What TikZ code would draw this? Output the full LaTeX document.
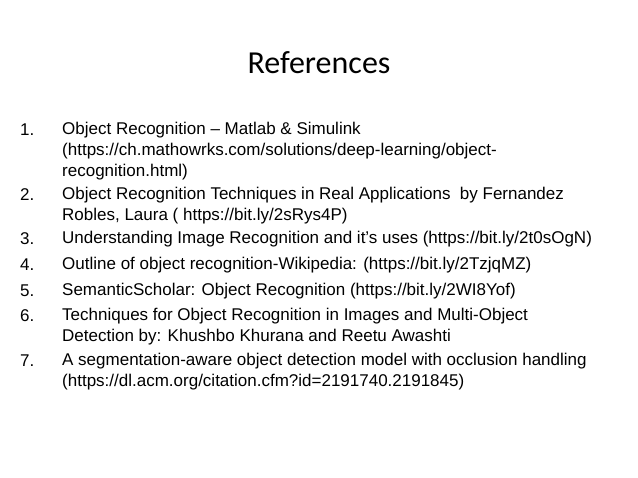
\documentclass[tikz,border=0pt]{standalone}
\usepackage{fontspec}
\setmainfont{Liberation Sans}
\newfontfamily\titlefont{Carlito}
\begin{document}
\begin{tikzpicture}[x=1pt,y=-1pt,
  ln/.style={anchor=west,inner sep=0pt,font=\fontsize{17}{20}\selectfont},
  num/.style={anchor=west,inner sep=0pt,font=\fontsize{17}{20}\selectfont}]
\useasboundingbox (0,0) rectangle (638,478);
\node[font=\titlefont\fontsize{32}{36}\selectfont,inner sep=0pt] (title) at (319,63) {References};
\foreach \n/\y in {1/130,2/195,3/239,4/265,5/291,6/316,7/361}
  \node[num] (n\n) at (20,\y) {\n.};
\node[ln] (a1) at (62,130) {Object Recognition – Matlab \& Simulink};
\node[ln] (a2) at (62,151) {(https://ch.mathowrks.com/solutions/deep-learning/object-};
\node[ln] (a3) at (62,172) {recognition.html)};
\node[ln] (b1) at (62,195) {Object Recognition Techniques in Real Applications \ by Fernandez};
\node[ln] (b2) at (62,216) {Robles, Laura ( https://bit.ly/2sRys4P)};
\node[ln] (c1) at (62,239) {Understanding Image Recognition and it’s uses (https://bit.ly/2t0sOgN)};
\node[ln] (d1) at (62,265) {Outline of object recognition-Wikipedia: (https://bit.ly/2TzjqMZ)};
\node[ln] (e1) at (62,291) {SemanticScholar: Object Recognition (https://bit.ly/2WI8Yof)};
\node[ln] (f1) at (62,316) {Techniques for Object Recognition in Images and Multi-Object};
\node[ln] (f2) at (62,337) {Detection by: Khushbo Khurana and Reetu Awashti};
\node[ln] (g1) at (62,361) {A segmentation-aware object detection model with occlusion handling};
\node[ln] (g2) at (62,382) {(https://dl.acm.org/citation.cfm?id=2191740.2191845)};
\end{tikzpicture}
\end{document}
